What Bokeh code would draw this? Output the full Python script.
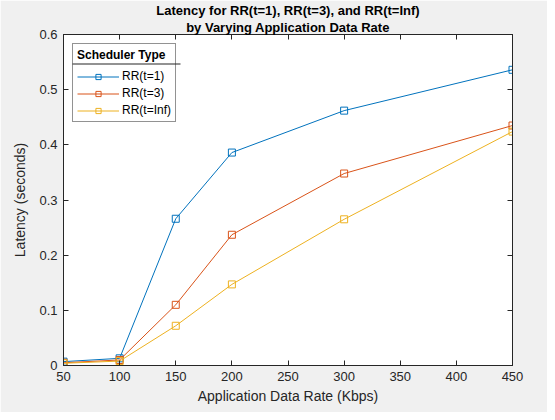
from bokeh.plotting import figure
from bokeh.models import (LinearAxis, Range1d, Legend, LegendItem, FixedTicker,
                          NumeralTickFormatter, Title, BoxAnnotation)
from bokeh.embed import file_html
from bokeh.resources import INLINE

# data
rates = [50, 100, 150, 200, 300, 450]
rr_t1 = [0.007, 0.013, 0.266, 0.386, 0.462, 0.536]
rr_t3 = [0.005, 0.010, 0.110, 0.237, 0.348, 0.435]
rr_inf = [0.004, 0.008, 0.072, 0.147, 0.265, 0.424]
x_ticks = [50, 100, 150, 200, 250, 300, 350, 400, 450]
y_ticks = [0, 0.1, 0.2, 0.3, 0.4, 0.5, 0.6]

FONT = "Liberation Sans"
INK = "#262626"
FRAME_H = 331

p = figure(width=547, height=412, x_range=Range1d(50, 450), y_range=Range1d(0, 0.6),
           output_backend="svg", toolbar_location=None,
           frame_width=449, frame_height=FRAME_H,
           min_border_left=63, min_border_right=35, min_border_top=34, min_border_bottom=47,
           background_fill_color="white", border_fill_color="#F0F0F0")
p.title = None
p.grid.visible = False
p.outline_line_color = INK


def style_axis(ax, labels=True):
    ax.major_tick_in = 5
    ax.major_tick_out = 0
    ax.minor_tick_in = 0
    ax.minor_tick_out = 0
    ax.axis_line_color = INK
    ax.major_tick_line_color = INK
    if labels:
        ax.major_label_text_font = FONT
        ax.major_label_text_font_size = "13px"
        ax.major_label_text_color = INK
        ax.axis_label_text_font = FONT
        ax.axis_label_text_font_size = "14px"
        ax.axis_label_text_font_style = "normal"
        ax.axis_label_text_color = INK
    else:
        ax.major_label_text_font_size = "0px"
        ax.major_label_standoff = 0


p.xaxis.ticker = FixedTicker(ticks=x_ticks)
p.yaxis.ticker = FixedTicker(ticks=y_ticks)
p.yaxis.formatter = NumeralTickFormatter(format="0.[0]")
p.xaxis.axis_label = "Application Data Rate (Kbps)"
p.yaxis.axis_label = "Latency (seconds)"
style_axis(p.xaxis[0])
style_axis(p.yaxis[0])
p.xaxis.major_label_standoff = 6
p.yaxis.major_label_standoff = 6
p.xaxis.axis_label_standoff = 4
p.yaxis.axis_label_standoff = 8

top_ax = LinearAxis(ticker=FixedTicker(ticks=x_ticks))
right_ax = LinearAxis(ticker=FixedTicker(ticks=y_ticks))
style_axis(top_ax, labels=False)
style_axis(right_ax, labels=False)
p.add_layout(top_ax, "above")
p.add_layout(right_ax, "right")

# two-line title, second line added first so it sits closer to the frame
for line in ["by Varying Application Data Rate", "Latency for RR(t=1), RR(t=3), and RR(t=Inf)"]:
    p.add_layout(Title(text=line, align="center", text_font=FONT, text_font_size="13px",
                       text_font_style="bold", text_color="black", standoff=0, offset=0), "above")

series = [("RR(t=1)", rr_t1, "#0072BD"),
          ("RR(t=3)", rr_t3, "#D95319"),
          ("RR(t=Inf)", rr_inf, "#EDB120")]

items = []
for label, ys, color in series:
    ln = p.line(rates, ys, line_color=color, line_width=1)
    mk = p.scatter(rates, ys, marker="square", size=7, line_color=color, fill_color=None, line_width=1)
    items.append(LegendItem(label=label, renderers=[ln, mk]))

# white legend backing and title separator (screen y counts up from the frame bottom);
# the legend itself is transparent so the separator shows through
backing = BoxAnnotation(left=10, right=116, top=FRAME_H - 10, bottom=FRAME_H - 84,
                        left_units="screen", right_units="screen", top_units="screen", bottom_units="screen",
                        fill_color="white", fill_alpha=1, line_color=None)
sep = BoxAnnotation(left=9, right=117, top=FRAME_H - 29, bottom=FRAME_H - 30,
                    left_units="screen", right_units="screen", top_units="screen", bottom_units="screen",
                    fill_color=INK, fill_alpha=1, line_color=None)
p.add_layout(backing)
p.add_layout(sep)

legend = Legend(items=items, location="top_left", margin=9,
                title="Scheduler Type", title_text_font=FONT, title_text_font_size="12px",
                title_text_font_style="bold", title_text_color="black", title_standoff=7,
                label_text_font=FONT, label_text_font_size="12px", label_text_color="black",
                glyph_width=42, glyph_height=13, spacing=3, padding=4, label_standoff=3,
                label_height=13, border_line_color=INK, border_line_width=1,
                background_fill_alpha=0)
p.add_layout(legend)

open("out.html", "w").write(file_html(p, INLINE))
